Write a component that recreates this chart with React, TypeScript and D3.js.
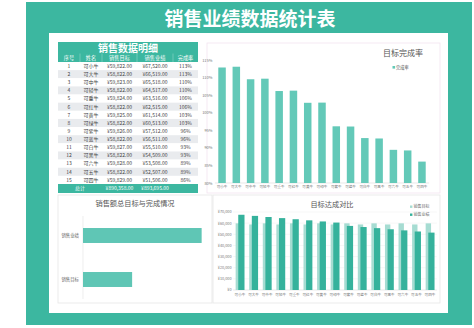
import * as d3 from "d3";

const names = ["可小牛", "可大牛", "可中牛", "可轻牛", "可重牛", "可红牛", "可黄牛", "可绿牛", "可紫牛", "可蓝牛", "可白牛", "可黑牛", "可六牛", "可五牛", "可四牛"];
const targets = [59822, 58822, 59823, 58822, 59824, 58822, 59825, 58822, 59826, 58822, 59827, 58822, 59828, 58822, 59829];
const actuals = [67520, 66519, 65518, 64517, 63516, 62515, 61514, 60513, 57512, 56511, 55510, 54509, 53508, 52507, 51506];
const headers = ["序号", "姓名", "销售目标", "销售业绩", "完成率"];
const totalLabels = ["销售业绩", "销售目标"];
const rateTicks = [0.8, 0.85, 0.9, 0.95, 1.0, 1.05, 1.1, 1.15];
const moneyTicks = [0, 10000, 20000, 30000, 40000, 50000, 60000, 70000];

const TEAL = "#3cb7a0";
const FONT = "'Noto Sans CJK SC', 'Noto Sans', sans-serif";

const rates = targets.map((t, i) => actuals[i] / t);
const totalTarget = d3.sum(targets);
const totalActual = d3.sum(actuals);
const money = (v: number) => "¥" + d3.format(",.2f")(v);
const pct = d3.format(".0%");
const yen = (v: number) => "¥" + d3.format(",")(v);

function Table() {
  const colEdges = [58, 80, 102, 137, 173, 198];
  const rowY = d3.scaleBand<number>().domain(d3.range(15)).range([62, 184]);
  const cx = (c: number) => (colEdges[c] + colEdges[c + 1]) / 2;
  return (
    <g fontFamily={FONT}>
      <rect x={58} y={42} width={140} height={20} fill={TEAL} />
      <text x={128} y={51.5} fontSize={10} fill="#fff" textAnchor="middle" fontWeight="bold">销售数据明细</text>
      {headers.map((h, c) => (
        <text key={h} x={cx(c)} y={59.8} fontSize={5.2} fill="#fff" textAnchor="middle">{h}</text>
      ))}
      {colEdges.slice(1, -1).map((x) => (
        <line key={x} x1={x} x2={x} y1={53.5} y2={62} stroke="#9fdcd0" strokeWidth={0.5} />
      ))}
      {names.map((n, i) => {
        const y = rowY(i)!;
        const ty = y + rowY.bandwidth() / 2 + 1.8;
        const cells = [String(i + 1), n, money(targets[i]), money(actuals[i]), pct(rates[i])];
        return (
          <g key={n}>
            <rect x={58} y={y} width={140} height={rowY.bandwidth()} fill={i % 2 ? "#e9ebee" : "#fff"} />
            {cells.map((t, c) => (
              <text key={c} x={cx(c)} y={ty} fontSize={5} fill="#444" textAnchor="middle">{t}</text>
            ))}
          </g>
        );
      })}
      <rect x={58} y={184} width={140} height={9} fill={TEAL} />
      <text x={80} y={190.3} fontSize={5} fill="#fff" textAnchor="middle">总计</text>
      <text x={cx(2)} y={190.3} fontSize={5} fill="#fff" textAnchor="middle">{money(totalTarget)}</text>
      <text x={cx(3)} y={190.3} fontSize={5} fill="#fff" textAnchor="middle">{money(totalActual)}</text>
    </g>
  );
}

function RateChart() {
  const x = d3.scaleBand<string>().domain(names).range([214.9, 429.1]).paddingInner(0.475).paddingOuter(0.2375);
  const y = d3.scaleLinear().domain([0.8, 1.15]).range([183, 60]);
  return (
    <g fontFamily={FONT}>
      <rect x={207} y={43} width={233} height={150} fill="#fff" stroke="#f3e3ef" strokeWidth={0.8} />
      <text x={403} y={56} fontSize={8} fill="#555" textAnchor="middle">目标完成率</text>
      <rect x={392.5} y={66} width={2.6} height={2.6} fill="#63c9b8" />
      <text x={396} y={69} fontSize={4.2} fill="#555">完成率</text>
      {rateTicks.map((t) => (
        <text key={t} x={212.5} y={y(t) + 1.5} fontSize={4} fill="#777" textAnchor="end">{pct(t)}</text>
      ))}
      <line x1={214.9} x2={429.1} y1={y(0.8)} y2={y(0.8)} stroke="#d9d9d9" strokeWidth={0.6} />
      {names.map((n, i) => (
        <g key={n}>
          <rect x={x(n)} y={y(rates[i])} width={x.bandwidth()} height={y(0.8) - y(rates[i])} fill="#63c9b8" />
          <text x={x(n)! + x.bandwidth() / 2} y={188} fontSize={3.6} fill="#777" textAnchor="middle">{n}</text>
        </g>
      ))}
    </g>
  );
}

function TotalChart() {
  const x = d3.scaleLinear().domain([888000, 894000]).range([83, 208]);
  const y = d3.scaleBand<string>().domain(totalLabels).range([213.5, 301.5]).paddingInner(0.66).paddingOuter(0.33);
  const vals = [totalActual, totalTarget];
  return (
    <g fontFamily={FONT}>
      <rect x={58} y={195} width={154} height={108} fill="#fff" stroke="#e6e6e6" strokeWidth={0.8} />
      <text x={135} y={206} fontSize={7.2} fill="#555" textAnchor="middle">销售额总目标与完成情况</text>
      <line x1={83} x2={83} y1={216} y2={299} stroke="#e3e3e3" strokeWidth={0.6} />
      {totalLabels.map((l, i) => (
        <g key={l}>
          <rect x={x(888000)} y={y(l)} width={x(vals[i]) - x(888000)} height={y.bandwidth()} fill="#5fc6b5" />
          <text x={79} y={y(l)! + y.bandwidth() / 2 + 1.5} fontSize={4.4} fill="#666" textAnchor="end">{l}</text>
        </g>
      ))}
    </g>
  );
}

function CompareChart() {
  const x = d3.scaleBand<string>().domain(names).range([233.2, 436.8]).paddingInner(0.36).paddingOuter(0.18);
  const y = d3.scaleLinear().domain([0, 70000]).range([290, 212]);
  const bw = x.bandwidth();
  return (
    <g fontFamily={FONT}>
      <rect x={213} y={195} width={227} height={108} fill="#fff" stroke="#e6e6e6" strokeWidth={0.8} />
      <text x={332} y={206.5} fontSize={7.2} fill="#555" textAnchor="middle">目标达成对比</text>
      <rect x={410} y={205.5} width={2.4} height={2.4} fill="#a6dcd2" />
      <text x={413.5} y={208.3} fontSize={4} fill="#666">销售目标</text>
      <rect x={410} y={213.5} width={2.4} height={2.4} fill="#35b29c" />
      <text x={413.5} y={216.3} fontSize={4} fill="#666">销售业绩</text>
      {moneyTicks.map((t) => (
        <g key={t}>
          <line x1={233.2} x2={436.8} y1={y(t)} y2={y(t)} stroke={t === 0 ? "#d0d0d0" : "#ececec"} strokeWidth={0.5} />
          <text x={231.5} y={y(t) + 1.4} fontSize={3.8} fill="#777" textAnchor="end">{yen(t)}</text>
        </g>
      ))}
      {names.map((n, i) => (
        <g key={n}>
          <rect x={x(n)} y={y(targets[i])} width={bw * 0.62} height={y(0) - y(targets[i])} fill="#a6dcd2" />
          <rect x={x(n)! + bw * 0.3} y={y(actuals[i])} width={bw * 0.72} height={y(0) - y(actuals[i])} fill="#35b29c" />
          <text x={x(n)! + bw / 2} y={296} fontSize={3.6} fill="#777" textAnchor="middle">{n}</text>
        </g>
      ))}
    </g>
  );
}

export default function App() {
  return (
    <div style={{ position: "fixed", left: 0, top: 0 }}>
      <svg width={474} height={328} style={{ display: "block", background: "#fff" }}>
        <rect x={26} y={2} width={446} height={323} fill={TEAL} />
        <rect x={49} y={33} width={399} height={280} fill="#fff" />
        <text x={250} y={26} fontSize={19} fontWeight="bold" fill="#fff" textAnchor="middle" fontFamily={FONT}>销售业绩数据统计表</text>
        <Table />
        <RateChart />
        <TotalChart />
        <CompareChart />
      </svg>
    </div>
  );
}
